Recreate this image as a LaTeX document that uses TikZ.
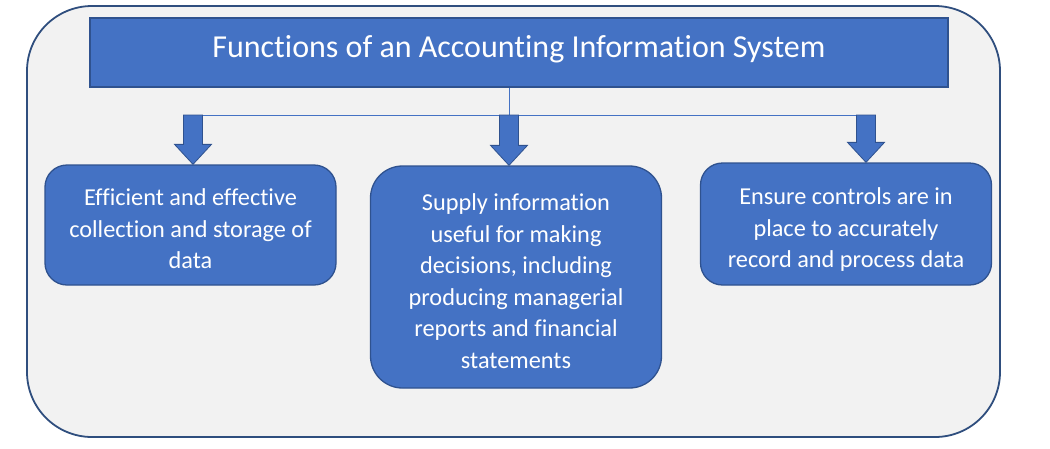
\documentclass[tikz,border=0pt]{standalone}
\usepackage{fontspec}
\setmainfont{Carlito}[Ligatures=NoCommon]
\usetikzlibrary{calc}

\definecolor{BoxFill}{HTML}{4472C4}
\definecolor{BoxBorder}{HTML}{2F528F}
\definecolor{FrameFill}{HTML}{F2F2F2}
\definecolor{FrameBorder}{HTML}{2F4E7E}

\tikzset{
  frame/.style={fill=FrameFill, draw=FrameBorder, line width=1.8pt, rounded corners=65pt},
  titlebox/.style={fill=BoxFill, draw=BoxBorder, line width=1.2pt, text=white,
    minimum width=858pt, minimum height=69pt, inner sep=0pt,
    font=\fontsize{32}{38}\selectfont},
  funcbox/.style={fill=BoxFill, draw=BoxBorder, line width=1.3pt, text=white,
    inner sep=0pt, minimum width=291pt, rounded corners=22pt,
    font=\fontsize{24.3}{31.5}\selectfont},
  bus/.style={draw=BoxFill, line width=1pt},
  arrowfill/.style={fill=BoxFill, draw=BoxBorder, line width=0.8pt, line join=miter},
}

% Texto centrado en varias lineas, algo mas abajo
\newcommand{\boxtext}[1]{\raisebox{-6pt}[\height][\depth]{\begin{tabular}{@{}c@{}}#1\end{tabular}}}

% Flecha de bloque vertical entre dos puntos alineados
\newcommand{\blockdown}[2]{%
  \draw[arrowfill] ($(#1)+(-9.5,0)$) -- ($(#1)+(9.5,0)$) -- ($(#2)+(9.5,-20)$)
    -- ($(#2)+(18.5,-20)$) -- (#2) -- ($(#2)+(-18.5,-20)$)
    -- ($(#2)+(-9.5,-20)$) -- cycle;}

\begin{document}
\begin{tikzpicture}[x=1pt, y=-1pt]

\useasboundingbox (0,0) rectangle (1050,448);

% Marco de fondo
\draw[frame] (27,6) rectangle (1000,437);

\node[titlebox] (title) at (519,52.5) {\raisebox{3pt}[\height][\depth]{Functions of an Accounting Information System}};

\node[funcbox, minimum height=120pt]
  (collect) at (190.5,225) {\boxtext{Efficient and effective\\collection and storage of\\data}};
\node[funcbox, minimum height=222pt, rounded corners=32pt]
  (supply) at (516,277) {\boxtext{Supply information\\useful for making\\decisions, including\\producing managerial\\reports and financial\\statements}};
\node[funcbox, minimum height=122pt]
  (control) at (846,224) {\boxtext{Ensure controls are in\\place to accurately\\record and process data}};

% Conector y barra horizontal
\coordinate (busA) at (193,115);
\coordinate (busB) at (509,115);
\coordinate (busC) at (866,115);
\draw[bus] (title.south -| busB) -- (busB);
\draw[bus] (busA) -- (busC);

% Flechas de bloque, luego de la barra para que la cubran
\blockdown{busA}{busA |- collect.north}
\blockdown{busB}{busB |- supply.north}
\blockdown{busC}{busC |- control.north}

\end{tikzpicture}
\end{document}
